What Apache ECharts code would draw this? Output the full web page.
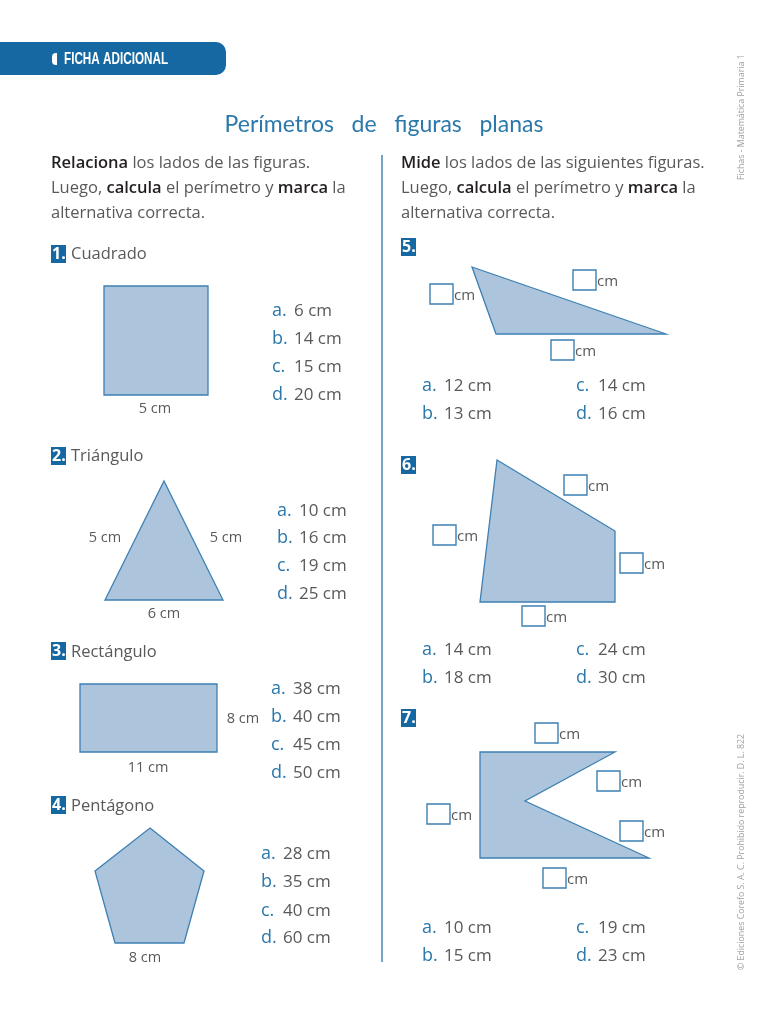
<!DOCTYPE html>
<html>
<head>
<meta charset="utf-8">
<style>html,body{margin:0;padding:0;background:#fff}#main{width:768px;height:1024px}</style>
<script src="https://cdn.jsdelivr.net/npm/echarts@6/dist/echarts.min.js"></script>
</head>
<body>
<div id="main"></div>
<script>
// figuras (vertices, en pixeles de la pagina)
var figures = [
    [[104,286],[208,286],[208,395],[104,395]],
    [[164,481],[223,600],[105,600]],
    [[80,684],[217,684],[217,752],[80,752]],
    [[150,828],[204,871],[184,943],[115,943],[95,871]],
    [[472,267],[666,334],[496,334]],
    [[497,460],[615,531],[615,602],[480,602]],
    [[480,752],[615,752],[525,801],[649,858],[480,858]]
];
// casilleros en blanco
var boxCorners = [
    [430,284],[573,270],[551,340],
    [433,525],[564,475],[620,553],[522,606],
    [427,804],[535,723],[597,771],[620,821],[543,868]
];
var divider = [[382,155],[382,962]];
var badgeCorners = [[51,245],[51,447],[51,642],[51,796],[401,238],[401,456],[401,709]];
var badgeLabels = ['1.','2.','3.','4.','5.','6.','7.'];

var headings = ['Cuadrado','Triángulo','Rectángulo','Pentágono'];
var headingAnchors = [[71,253],[71,455],[71,651],[71,805]];

var introLabels = [
    '{b|Relaciona} los lados de las figuras.',
    'Luego, {b|calcula} el perímetro y {b|marca} la',
    'alternativa correcta.',
    '{b|Mide} los lados de las siguientes figuras.',
    'Luego, {b|calcula} el perímetro y {b|marca} la',
    'alternativa correcta.'
];
var introAnchors = [[51,162],[51,187],[51,212],[401,162],[401,187],[401,212]];

var sideLabels = ['5 cm','5 cm','5 cm','6 cm','8 cm','11 cm','8 cm'];
var sideAnchors = [[155,408],[105,537],[226,537],[164,613],[243,718],[148,767],[145,957]];

var optionLetters = ['a.','b.','c.','d.'];
var optionValues = [
    ['6 cm','14 cm','15 cm','20 cm'],
    ['10 cm','16 cm','19 cm','25 cm'],
    ['38 cm','40 cm','45 cm','50 cm'],
    ['28 cm','35 cm','40 cm','60 cm'],
    ['12 cm','13 cm','14 cm','16 cm'],
    ['14 cm','18 cm','24 cm','30 cm'],
    ['10 cm','15 cm','19 cm','23 cm']
];
var optionAnchors = [
    [[272,310],[272,338],[272,366],[272,394]],
    [[277,510],[277,537],[277,565],[277,593]],
    [[271,688],[271,716],[271,744],[271,772]],
    [[261,853],[261,881],[261,910],[261,937]],
    [[422,385],[422,413],[576,385],[576,413]],
    [[422,649],[422,677],[576,649],[576,677]],
    [[422,927],[422,955],[576,927],[576,955]]
];

var BLUE = '#1668a2', MID = '#2b78ab', GREY = '#58595b', FONT = '"Open Sans"';
var BOX_W = 23, BOX_H = 20;

var myChart = echarts.init(document.getElementById('main'));

function textSeries(labels, anchors, style, extra) {
    return {
        type: 'custom', coordinateSystem: 'cartesian2d', silent: true, clip: false,
        data: anchors,
        renderItem: function (params, api) {
            var p = api.coord([api.value(0), api.value(1)]);
            return Object.assign({
                type: 'text', x: p[0], y: p[1] + 1,
                style: Object.assign({ text: labels[params.dataIndex], verticalAlign: 'middle', align: 'left' }, style)
            }, extra);
        }
    };
}

function rectSeries(corners, w, h, fill, stroke, r, z) {
    return {
        type: 'custom', coordinateSystem: 'cartesian2d', silent: true, z: z || 2,
        data: corners,
        renderItem: function (params, api) {
            var a = api.coord([api.value(0), api.value(1)]);
            var b = api.coord([api.value(0) + w, api.value(1) + h]);
            return {
                type: 'rect',
                shape: { x: a[0], y: a[1], width: b[0] - a[0], height: b[1] - a[1], r: r || 0 },
                style: { fill: fill, stroke: stroke, lineWidth: stroke ? 1.4 : 0 }
            };
        }
    };
}

var figureSeries = figures.map(function (pts) {
    return {
        type: 'custom', coordinateSystem: 'cartesian2d', silent: true, z: 2,
        data: [0],
        renderItem: function (params, api) {
            return {
                type: 'polygon',
                shape: { points: pts.map(function (q) { return api.coord(q); }) },
                style: { fill: '#adc4dd', stroke: '#3d80b2', lineWidth: 1.3 }
            };
        }
    };
});

var optionLetterLabels = [], optionLetterAnchors = [], optionValueLabels = [], optionValueAnchors = [];
optionValues.forEach(function (vals, i) {
    vals.forEach(function (v, j) {
        optionLetterLabels.push(optionLetters[j]);
        optionLetterAnchors.push(optionAnchors[i][j]);
        optionValueLabels.push(v);
        optionValueAnchors.push([optionAnchors[i][j][0] + 22, optionAnchors[i][j][1]]);
    });
});

var cmAnchors = boxCorners.map(function (c) { return [c[0] + BOX_W + 1, c[1] + BOX_H / 2 + 1]; });
var cmLabels = boxCorners.map(function () { return 'cm'; });
var badgeAnchors = badgeCorners.map(function (c) { return [c[0] + 1, c[1] + 8]; });

var textBase = { fontFamily: FONT, fontSize: 16.5, fill: GREY };

var option = {
    animation: false,
    grid: { left: 0, right: 0, top: 0, bottom: 0 },
    xAxis: { type: 'value', min: 0, max: 768, show: false },
    yAxis: { type: 'value', min: 0, max: 1024, inverse: true, show: false },
    series: figureSeries.concat([
        rectSeries([[-12,42]], 238, 33, BLUE, null, 10, 1),
        rectSeries([[52,53]], 5, 12, '#fff', null, [4,0,0,4], 3),
        rectSeries(badgeCorners, 15, 18, BLUE, null, 0, 1),
        rectSeries(boxCorners, BOX_W, BOX_H, '#fff', '#3d80b2', 0, 2),
        {
            type: 'line', data: divider, symbol: 'none', silent: true, z: 1,
            lineStyle: { color: BLUE, width: 1.2 }
        },
        textSeries(['FICHA ADICIONAL'], [[64,58]], { fontFamily: 'Liberation Sans', fontWeight: 'bold', fontSize: 16.5, fill: '#fff' }, { scaleX: 0.71 }),
        textSeries(['Perímetros   de   figuras   planas'], [[384,124]], { fontFamily: 'Lato', fontSize: 23, fill: MID, align: 'center' }),
        textSeries(introLabels, introAnchors, Object.assign({}, textBase, { rich: { b: { fontFamily: FONT, fontSize: 16.5, fontWeight: 600, fill: '#231f20' } } })),
        textSeries(headings, headingAnchors, textBase),
        textSeries(badgeLabels, badgeAnchors, { fontFamily: FONT, fontSize: 16, fontWeight: 'bold', fill: '#fff' }),
        textSeries(sideLabels, sideAnchors, { fontFamily: FONT, fontSize: 14.5, fill: GREY, align: 'center' }),
        textSeries(cmLabels, cmAnchors, { fontFamily: FONT, fontSize: 15, fill: GREY }),
        textSeries(optionLetterLabels, optionLetterAnchors, { fontFamily: FONT, fontSize: 18, fontWeight: 500, fill: MID }),
        textSeries(optionValueLabels, optionValueAnchors, { fontFamily: FONT, fontSize: 17, fill: GREY }),
        textSeries(['Fichas - Matemática Primaria 1'], [[741,179]], { fontFamily: FONT, fontSize: 8.8, fill: '#a0a0a0' }, { rotation: Math.PI / 2 }),
        textSeries(['© Ediciones Corefo S. A. C. Prohibido reproducir. D. L. 822'], [[741,969]], { fontFamily: FONT, fontSize: 8.8, fill: '#a0a0a0' }, { rotation: Math.PI / 2 })
    ])
};
myChart.setOption(option);
</script>
</body>
</html>
